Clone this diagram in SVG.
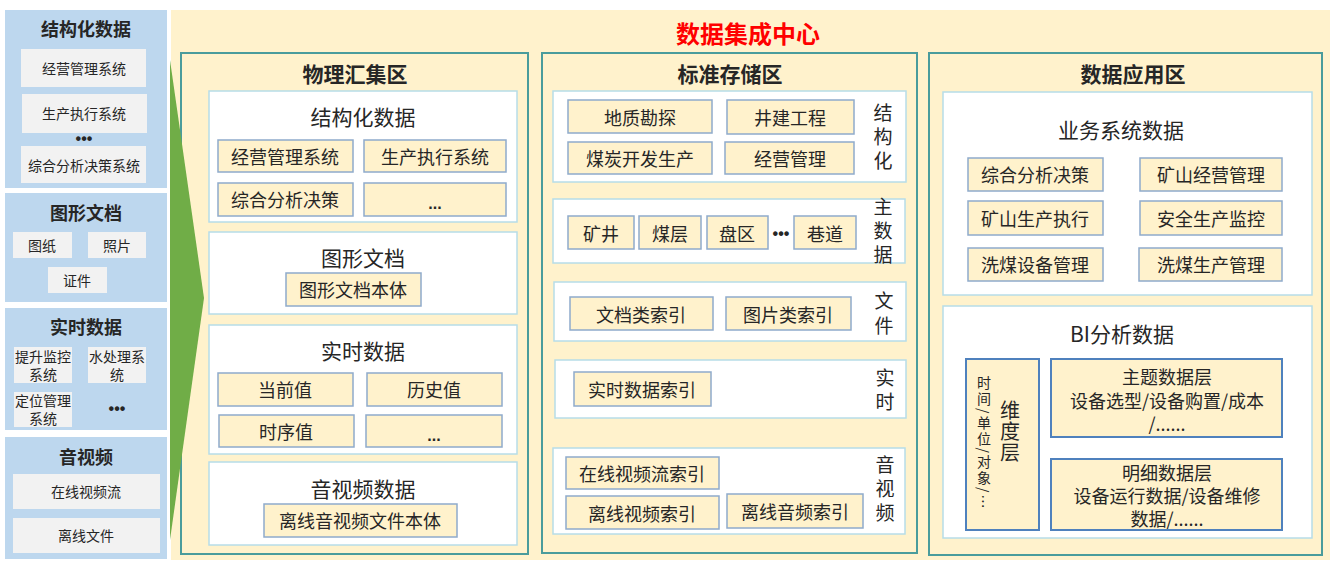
<svg xmlns="http://www.w3.org/2000/svg" width="1334" height="566" viewBox="0 0 1334 566">
<style>
text{font-family:"Noto Sans CJK SC","Noto Sans",sans-serif;fill:#262626;text-anchor:middle;dominant-baseline:central}
.lp{fill:#BDD7EE}
.gb{fill:#F2F2F2}
.zone{fill:#FFF2CC;stroke:#4A9C9C;stroke-width:2}
.sub{fill:#FFFFFF;stroke:#B7DDE8;stroke-width:1.5}
.box{fill:#FFF2CC;stroke:#8FAACB;stroke-width:1.5}
.bi{fill:#FFF2CC;stroke:#4F81BD;stroke-width:2}
.lt{font-size:18px;font-weight:bold}
.ls{font-size:14px}
.zt{font-size:21px;font-weight:bold}
.sh{font-size:21px}
.bt{font-size:18px}
.dots{font-family:"Liberation Sans",sans-serif;font-size:16px;font-weight:bold}
.vt{font-size:19px;writing-mode:tb;letter-spacing:5px}
</style>
<rect x="0" y="0" width="1334" height="566" fill="#FFFFFF"/>

<g id="src-structured">
<rect class="lp" x="5" y="10" width="162" height="178"/>
<text class="lt" x="86" y="28">结构化数据</text>
<rect class="gb" x="21" y="49" width="125" height="38"/>
<text class="ls" x="84" y="68">经营管理系统</text>
<rect class="gb" x="22" y="94" width="125" height="39"/>
<text class="ls" x="84" y="113">生产执行系统</text>
<text class="dots" x="84" y="138">•••</text>
<rect class="gb" x="21" y="146" width="125" height="37"/>
<text class="ls" x="84" y="165">综合分析决策系统</text>
</g>

<g id="src-graphic">
<rect class="lp" x="5" y="193" width="162" height="109"/>
<text class="lt" x="86" y="212">图形文档</text>
<rect class="gb" x="13" y="232" width="59" height="26"/>
<text class="ls" x="42" y="245">图纸</text>
<rect class="gb" x="88" y="232" width="58" height="26"/>
<text class="ls" x="117" y="245">照片</text>
<rect class="gb" x="48" y="267" width="59" height="26"/>
<text class="ls" x="77" y="280">证件</text>
</g>

<g id="src-realtime">
<rect class="lp" x="5" y="308" width="162" height="122"/>
<text class="lt" x="86" y="326">实时数据</text>
<rect class="gb" x="14" y="347" width="58" height="36"/>
<text class="ls" x="43" y="356">提升监控<tspan x="43" y="374">系统</tspan></text>
<rect class="gb" x="88" y="347" width="58" height="36"/>
<text class="ls" x="117" y="356">水处理系<tspan x="117" y="374">统</tspan></text>
<rect class="gb" x="14" y="392" width="58" height="35"/>
<text class="ls" x="43" y="400">定位管理<tspan x="43" y="418">系统</tspan></text>
<text class="dots" x="117" y="408">•••</text>
</g>

<g id="src-av">
<rect class="lp" x="5" y="437" width="162" height="122"/>
<text class="lt" x="86" y="456">音视频</text>
<rect class="gb" x="13" y="474" width="147" height="35"/>
<text class="ls" x="86" y="491">在线视频流</text>
<rect class="gb" x="13" y="518" width="147" height="35"/>
<text class="ls" x="86" y="535">离线文件</text>
</g>

<g id="center-bg">
<rect x="171" y="10" width="1159" height="550" fill="#FFF2CC"/>
<text x="748" y="32" style="font-size:24px;font-weight:bold;fill:#FF0000">数据集成中心</text>
</g>

<g id="zone-physical">
<rect class="zone" x="181" y="53" width="347" height="501"/>
<text class="zt" x="355" y="73">物理汇集区</text>
<g id="phys-structured">
<rect class="sub" x="209" y="91" width="308" height="131"/>
<text class="sh" x="363" y="116">结构化数据</text>
<rect class="box" x="218" y="140" width="135" height="32"/>
<text class="bt" x="285" y="156">经营管理系统</text>
<rect class="box" x="364" y="140" width="142" height="32"/>
<text class="bt" x="435" y="156">生产执行系统</text>
<rect class="box" x="218" y="183" width="135" height="33"/>
<text class="bt" x="285" y="199">综合分析决策</text>
<rect class="box" x="364" y="183" width="142" height="33"/>
<text class="dots" x="435" y="203">...</text>
</g>
<g id="phys-graphic">
<rect class="sub" x="209" y="232" width="308" height="82"/>
<text class="sh" x="363" y="257">图形文档</text>
<rect class="box" x="286" y="273" width="135" height="33"/>
<text class="bt" x="353" y="289">图形文档本体</text>
</g>
<g id="phys-realtime">
<rect class="sub" x="209" y="325" width="308" height="129"/>
<text class="sh" x="363" y="350">实时数据</text>
<rect class="box" x="218" y="373" width="135" height="33"/>
<text class="bt" x="285" y="389">当前值</text>
<rect class="box" x="367" y="373" width="135" height="33"/>
<text class="bt" x="434" y="389">历史值</text>
<rect class="box" x="219" y="415" width="135" height="32"/>
<text class="bt" x="286" y="431">时序值</text>
<rect class="box" x="366" y="415" width="136" height="32"/>
<text class="dots" x="434" y="435">...</text>
</g>
<g id="phys-av">
<rect class="sub" x="209" y="462" width="308" height="83"/>
<text class="sh" x="363" y="488">音视频数据</text>
<rect class="box" x="264" y="504" width="193" height="33"/>
<text class="bt" x="360" y="520">离线音视频文件本体</text>
</g>
</g>

<g id="zone-standard">
<rect class="zone" x="542" y="53" width="375" height="500"/>
<text class="zt" x="730" y="73">标准存储区</text>
<g id="std-structured">
<rect class="sub" x="553" y="91" width="353" height="91"/>
<rect class="box" x="568" y="100" width="144" height="33"/>
<text class="bt" x="640" y="117">地质勘探</text>
<rect class="box" x="727" y="100" width="127" height="34"/>
<text class="bt" x="790" y="117">井建工程</text>
<rect class="box" x="568" y="142" width="144" height="32"/>
<text class="bt" x="640" y="158">煤炭开发生产</text>
<rect class="box" x="725" y="142" width="129" height="32"/>
<text class="bt" x="790" y="158">经营管理</text>
<text class="vt" x="883" y="139">结构化</text>
</g>
<g id="std-master">
<rect class="sub" x="553" y="199" width="352" height="64"/>
<rect class="box" x="568" y="216" width="66" height="33"/>
<text class="bt" x="601" y="233">矿井</text>
<rect class="box" x="639" y="216" width="62" height="33"/>
<text class="bt" x="670" y="233">煤层</text>
<rect class="box" x="707" y="216" width="61" height="33"/>
<text class="bt" x="737" y="233">盘区</text>
<text class="dots" x="781" y="233">•••</text>
<rect class="box" x="794" y="216" width="62" height="33"/>
<text class="bt" x="825" y="233">巷道</text>
<text class="vt" x="883" y="233">主数据</text>
</g>
<g id="std-file">
<rect class="sub" x="554" y="282" width="352" height="59"/>
<rect class="box" x="570" y="297" width="143" height="33"/>
<text class="bt" x="641" y="314">文档类索引</text>
<rect class="box" x="726" y="297" width="125" height="33"/>
<text class="bt" x="788" y="314">图片类索引</text>
<text class="vt" x="884" y="316" style="letter-spacing:6px">文件</text>
</g>
<g id="std-realtime">
<rect class="sub" x="555" y="360" width="351" height="58"/>
<rect class="box" x="574" y="372" width="137" height="34"/>
<text class="bt" x="642" y="389">实时数据索引</text>
<text class="vt" x="885" y="392">实时</text>
</g>
<g id="std-av">
<rect class="sub" x="553" y="448" width="352" height="86"/>
<rect class="box" x="566" y="457" width="153" height="32"/>
<text class="bt" x="642" y="473">在线视频流索引</text>
<rect class="box" x="566" y="496" width="153" height="33"/>
<text class="bt" x="642" y="513">离线视频索引</text>
<rect class="box" x="727" y="494" width="136" height="34"/>
<text class="bt" x="795" y="511">离线音频索引</text>
<text class="vt" x="885" y="491">音视频</text>
</g>
</g>

<g id="zone-application">
<rect class="zone" x="929" y="53" width="393" height="502"/>
<text class="zt" x="1133" y="73">数据应用区</text>
<g id="app-business">
<rect class="sub" x="943" y="92" width="369" height="203"/>
<text class="sh" x="1121" y="129">业务系统数据</text>
<rect class="box" x="968" y="158" width="135" height="33"/>
<text class="bt" x="1035" y="174">综合分析决策</text>
<rect class="box" x="1140" y="158" width="142" height="33"/>
<text class="bt" x="1211" y="174">矿山经营管理</text>
<rect class="box" x="968" y="201" width="135" height="34"/>
<text class="bt" x="1035" y="218">矿山生产执行</text>
<rect class="box" x="1140" y="201" width="142" height="34"/>
<text class="bt" x="1211" y="218">安全生产监控</text>
<rect class="box" x="968" y="248" width="135" height="33"/>
<text class="bt" x="1035" y="264">洗煤设备管理</text>
<rect class="box" x="1139" y="248" width="143" height="33"/>
<text class="bt" x="1211" y="264">洗煤生产管理</text>
</g>
<g id="app-bi">
<rect class="sub" x="943" y="306" width="369" height="232"/>
<text class="sh" x="1122" y="333">BI分析数据</text>
<g id="bi-dimension">
<rect class="bi" x="966" y="359" width="73" height="171"/>
<text x="984" y="376" style="font-size:14px;writing-mode:tb;text-anchor:start;letter-spacing:2px">时间/单位/对象/…</text>
<text x="1010" y="432" style="font-size:20px;writing-mode:tb;letter-spacing:1px">维度层</text>
</g>
<g id="bi-topic">
<rect class="bi" x="1051" y="359" width="231" height="78"/>
<text class="bt"><tspan x="1167" y="376">主题数据层</tspan><tspan x="1167" y="400">设备选型/设备购置/成本</tspan><tspan x="1167" y="423">/......</tspan></text>
</g>
<g id="bi-detail">
<rect class="bi" x="1051" y="459" width="231" height="71"/>
<text class="bt"><tspan x="1167" y="472">明细数据层</tspan><tspan x="1167" y="495">设备运行数据/设备维修</tspan><tspan x="1167" y="518">数据/......</tspan></text>
</g>
</g>
</g>

<g id="connectors">
<polygon id="flow-arrow" points="170,60 204,298 170,540" fill="#70AD47"/>
</g>
</svg>
